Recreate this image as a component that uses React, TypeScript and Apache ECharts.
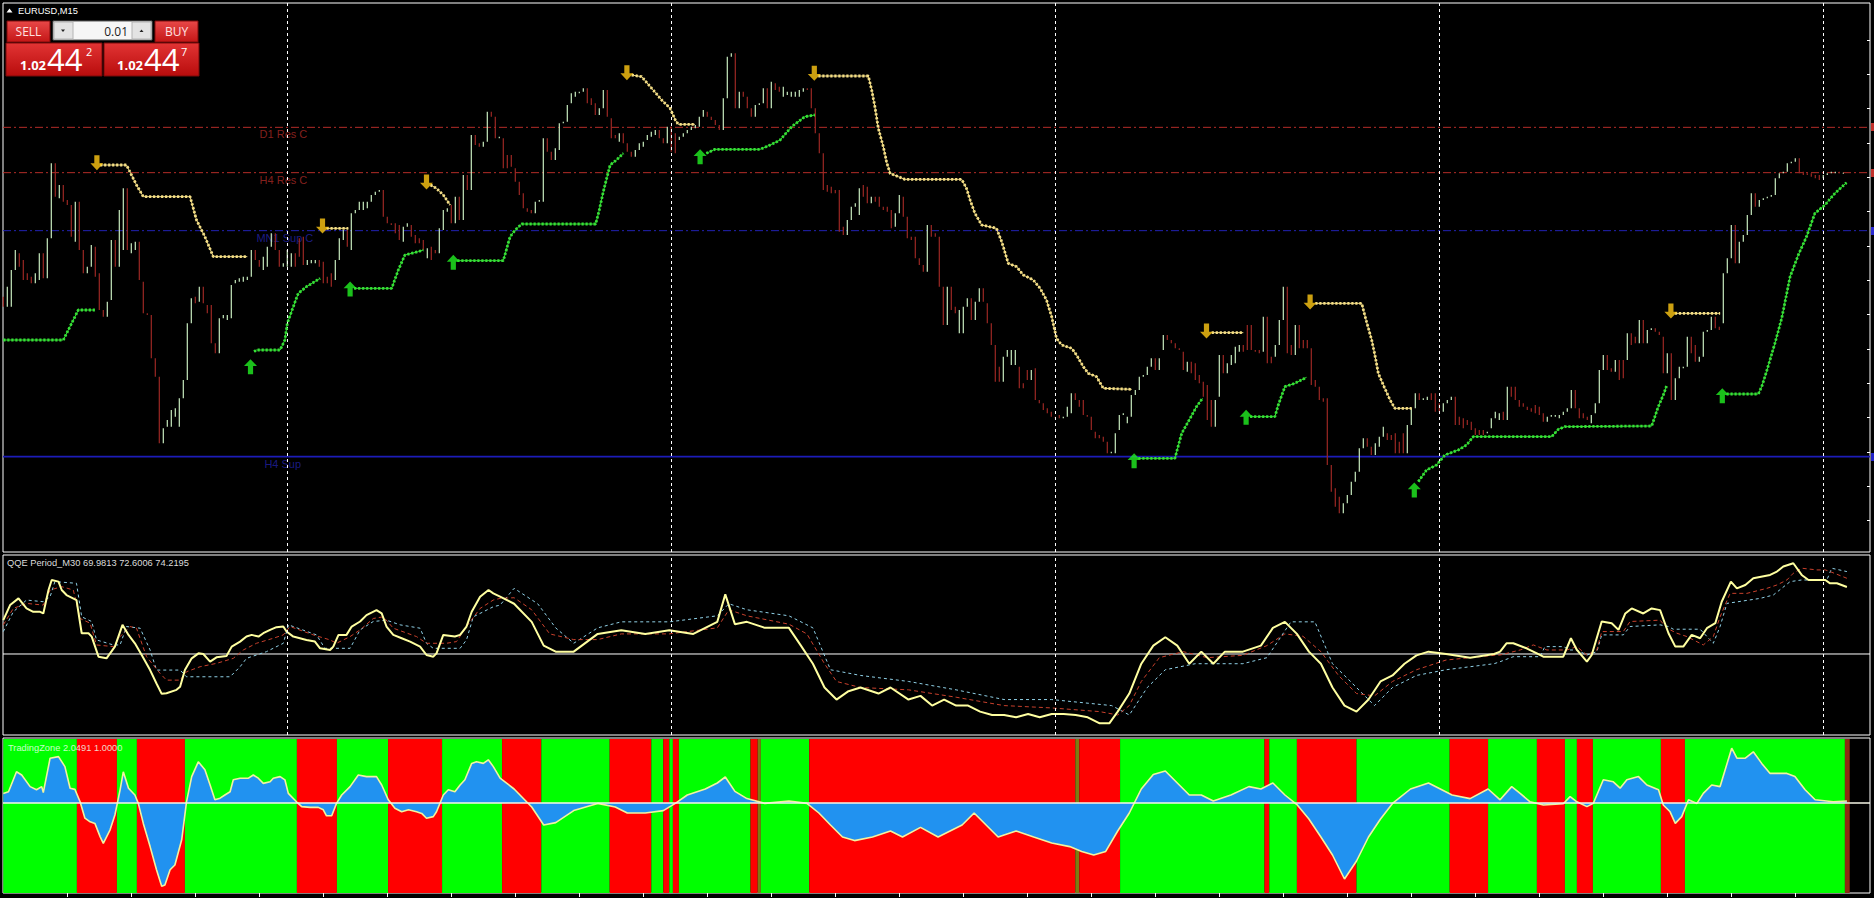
import React, { useEffect, useRef } from "react";
import * as echarts from "echarts";

// ===================== DATA =====================
// Candles: [open, close] in points, price = 1 + p / 100000 (EURUSD M15)
const candles = [
  [2070,2040],[2040,2100],[2040,2150],[2150,2210],[2200,2160],[2180,2120],[2140,2120],[2130,2110],[2110,2140],[2120,2200],
  [2200,2125],[2125,2245],[2245,2470],[2470,2370],[2365,2405],[2405,2355],[2360,2345],[2345,2250],[2235,2355],[2355,2210],
  [2210,2140],[2140,2160],[2160,2225],[2220,2130],[2140,2030],[2030,2010],[2010,2055],[2060,2240],[2240,2160],[2160,2330],
  [2210,2395],[2395,2210],[2200,2230],[2210,2235],[2235,2120],[2115,2020],[2020,2015],[2015,1885],[1885,1830],[1830,1630],
  [1630,1675],[1680,1700],[1680,1730],[1710,1735],[1680,1765],[1765,1820],[1820,1990],[1990,2065],[2070,2050],[2055,2100],
  [2100,2050],[2045,2020],[2045,1930],[1930,1900],[1900,2005],[2005,2015],[2000,2015],[2005,2105],[2110,2120],[2115,2125],
  [2115,2130],[2120,2130],[2130,2210],[2210,2180],[2180,2160],[2150,2190],[2160,2220],[2220,2260],[2260,2210],[2210,2160],
  [2160,2170],[2160,2210],[2160,2200],[2200,2160],[2245,2190],[2250,2165],[2165,2180],[2170,2180],[2170,2180],[2180,2160],
  [2175,2110],[2130,2110],[2140,2100],[2120,2180],[2180,2245],[2240,2270],[2270,2220],[2210,2320],[2320,2330],[2330,2355],
  [2330,2355],[2335,2355],[2355,2375],[2375,2385],[2385,2390],[2390,2310],[2310,2290],[2290,2285],[2290,2260],[2285,2240],
  [2235,2280],[2280,2290],[2285,2250],[2255,2230],[2245,2230],[2240,2210],[2185,2215],[2220,2180],[2210,2200],[2200,2275],
  [2270,2330],[2325,2335],[2345,2290],[2290,2370],[2370,2300],[2300,2435],[2435,2390],[2390,2555],[2555,2525],[2530,2520],
  [2520,2535],[2535,2625],[2625,2610],[2610,2545],[2545,2550],[2545,2455],[2495,2455],[2495,2460],[2455,2415],[2415,2375],
  [2380,2335],[2335,2325],[2330,2320],[2320,2355],[2355,2360],[2355,2545],[2545,2505],[2505,2480],[2480,2515],[2510,2590],
  [2590,2595],[2595,2645],[2650,2680],[2670,2685],[2680,2685],[2685,2695],[2695,2650],[2665,2645],[2650,2615],[2615,2635],
  [2635,2690],[2690,2610],[2605,2545],[2555,2545],[2535,2560],[2560,2530],[2530,2505],[2505,2490],[2490,2510],[2510,2530],
  [2520,2535],[2540,2555],[2550,2565],[2555,2570],[2570,2545],[2545,2530],[2530,2580],[2580,2505],[2560,2500],[2540,2550],
  [2550,2560],[2560,2570],[2570,2580],[2575,2585],[2580,2610],[2610,2630],[2625,2610],[2610,2600],[2600,2585],[2585,2570],
  [2570,2665],[2665,2790],[2790,2800],[2800,2635],[2635,2685],[2685,2670],[2670,2635],[2635,2610],[2610,2645],[2645,2650],
  [2650,2695],[2695,2635],[2635,2715],[2710,2690],[2700,2685],[2670,2700],[2675,2685],[2670,2685],[2670,2685],[2670,2690],
  [2685,2695],[2695,2690],[2695,2635],[2635,2560],[2560,2500],[2500,2390],[2405,2385],[2400,2380],[2390,2380],[2390,2265],
  [2280,2255],[2255,2300],[2300,2340],[2340,2350],[2315,2395],[2405,2370],[2400,2350],[2350,2370],[2370,2355],[2370,2340],
  [2340,2330],[2340,2325],[2330,2275],[2280,2320],[2320,2375],[2370,2310],[2310,2245],[2250,2240],[2250,2185],[2185,2165],
  [2165,2145],[2145,2285],[2285,2250],[2260,2250],[2250,2100],[2100,1985],[1985,2100],[2100,2030],[2040,2020],[1960,2030],
  [1960,2040],[2040,2065],[2065,2000],[2000,2055],[2055,2095],[2095,2055],[2050,1990],[1990,1925],[1925,1815],[1860,1815],
  [1815,1890],[1890,1910],[1865,1910],[1865,1910],[1860,1795],[1810,1795],[1850,1820],[1820,1850],[1855,1760],[1760,1750],
  [1750,1730],[1735,1720],[1725,1710],[1710,1705],[1715,1705],[1705,1710],[1710,1740],[1720,1780],[1780,1760],[1760,1740],
  [1760,1715],[1715,1710],[1710,1670],[1665,1645],[1655,1645],[1650,1635],[1635,1600],[1600,1605],[1600,1660],[1670,1715],
  [1715,1720],[1690,1710],[1710,1775],[1775,1790],[1790,1830],[1830,1835],[1835,1860],[1860,1885],[1885,1850],[1850,1885],
  [1910,1955],[1955,1940],[1940,1930],[1930,1915],[1915,1910],[1905,1850],[1845,1875],[1875,1840],[1870,1820],[1835,1810],
  [1815,1770],[1805,1700],[1760,1680],[1680,1760],[1770,1895],[1895,1840],[1840,1870],[1865,1895],[1870,1920],[1905,1925],
  [1925,1905],[1985,1910],[1985,1910],[1910,1905],[1910,1900],[1905,2010],[2010,1870],[1890,1870],[1890,1925],[1925,2000],
  [2000,2100],[2100,1900],[1925,1895],[1895,1985],[1985,1915],[1940,1915],[1940,1915],[1915,1805],[1820,1800],[1800,1760],
  [1765,1755],[1765,1565],[1565,1485],[1495,1440],[1470,1420],[1420,1450],[1450,1475],[1475,1515],[1515,1545],[1545,1615],
  [1615,1645],[1645,1620],[1620,1595],[1595,1630],[1620,1650],[1650,1680],[1660,1640],[1655,1640],[1660,1600],[1635,1600],
  [1660,1600],[1600,1685],[1685,1735],[1735,1780],[1780,1760],[1760,1765],[1760,1770],[1780,1760],[1780,1725],[1750,1725],
  [1725,1750],[1750,1760],[1760,1770],[1770,1685],[1710,1685],[1705,1675],[1700,1685],[1695,1670],[1675,1655],[1670,1655],
  [1670,1655],[1660,1665],[1675,1705],[1705,1725],[1700,1720],[1725,1700],[1700,1800],[1800,1770],[1800,1760],[1760,1740],
  [1750,1740],[1740,1730],[1735,1725],[1745,1720],[1740,1715],[1720,1695],[1695,1710],[1710,1715],[1710,1715],[1705,1715],
  [1715,1725],[1725,1735],[1735,1790],[1790,1735],[1735,1705],[1720,1705],[1710,1700],[1690,1715],[1720,1750],[1750,1850],
  [1850,1895],[1895,1850],[1855,1845],[1845,1880],[1880,1820],[1880,1825],[1880,1960],[1960,1925],[1950,1930],[1930,2000],
  [2000,1930],[1930,1970],[1970,1975],[1975,1965],[1965,1955],[1950,1840],[1840,1900],[1900,1760],[1760,1825],[1825,1860],
  [1855,1860],[1860,1950],[1950,1900],[1925,1875],[1875,1890],[1890,1965],[1965,1970],[1970,2010],[2010,1975],[1980,1970],
  [1990,2140],[2140,2185],[2185,2285],[2285,2170],[2170,2235],[2235,2255],[2255,2315],[2315,2380],[2380,2340],[2340,2360],
  [2360,2365],[2365,2370],[2370,2375],[2375,2425],[2425,2440],[2440,2445],[2445,2470],[2470,2475],[2475,2485],[2485,2440],
  [2445,2435],[2440,2435],[2440,2430],[2435,2425],[2435,2420],[2425,2435],[2435,2440],[2440,2445],[2440,2445],[2445,2440],[2440,2442],
];

const levelNames = ["D1 Res C", "H4 Res C", "MN1 Sup C", "H4 Sup"];
const levelValues = [2578, 2442, 2268, 1590];

const daySeparators = [71, 167, 263, 359, 455];
const timeTicks = [16,32,48,64,80,96,112,128,144,160,176,192,208,224,240,256,272,288,304,320,336,352,368,384,400,416,432,448];
const priceTicks = [2840,2737,2634,2531,2428,2325,2222,2119,2016,1913,1810,1707,1604,1501,1398];

// Trailing stop lines [bar, price points]
const greenStops = [
  [[0,1940],[15,1940],[18.75,2030],[22.9,2030]],
  [[62.7,1905],[63.3,1910],[69.2,1910],[70.4,1940],[71,1990],[72.5,2040],[73.75,2080],[75.8,2100],[79.2,2125]],
  [[87.7,2095],[97.1,2095],[98.75,2150],[100.4,2195],[103.75,2205],[105,2210]],
  [[113.5,2178],[125,2178],[126.7,2250],[128,2270],[129.6,2288],[148.1,2288],[148.9,2325],[150,2385],[151.7,2465],[153.3,2480],[155,2500]],
  [[175.75,2500],[177.9,2512],[189.2,2512],[191.7,2525],[194.2,2540],[197.1,2580],[200.4,2610],[202.9,2615]],
  [[283.75,1585],[292.9,1585],[294.6,1660],[296.7,1705],[298.3,1740],[299.8,1765]],
  [[311.7,1710],[317.9,1710],[318.75,1745],[320.4,1800],[322.9,1810],[325.8,1828]],
  [[353.75,1515],[355.8,1550],[358.3,1565],[360.4,1595],[363.75,1610],[365.8,1625],[367.5,1650],[387.1,1650],[388.75,1672],[390.4,1680],[412.1,1682],[413.75,1740],[415,1775],[415.8,1802]],
  [[430.8,1778],[438.75,1778],[439.6,1800],[440.8,1845],[442.9,1930],[444.6,2005],[446.7,2130],[448.75,2195],[450.8,2250],[452.9,2320],[455.4,2345],[457.9,2380],[460.8,2412]],
];
const yellowStops = [
  [[24.2,2465],[30.8,2465],[33.3,2405],[35,2370],[46.7,2370],[48.3,2300],[50.4,2250],[52.5,2190],[61,2190]],
  [[80.8,2275],[86.25,2275]],
  [[106.8,2405],[108.3,2395],[110,2375],[111.7,2345]],
  [[157.1,2735],[159.6,2730],[162.1,2695],[164.6,2660],[166.7,2635],[168,2600],[168.75,2587],[172.9,2587]],
  [[203.75,2732],[216.25,2732],[217.1,2690],[217.9,2640],[218.75,2575],[220,2520],[220.8,2475],[221.7,2440],[223.75,2430],[225.4,2422],[239.6,2422],[240.8,2395],[241.7,2360],[242.9,2320],[244.6,2285],[248.3,2275],[249.6,2235],[251.25,2170],[253.3,2160],[255,2135],[257.5,2120],[259.2,2095],[260.8,2060],[262.1,2010],[263.3,1945],[264.6,1925],[267.1,1915],[268.3,1895],[270,1860],[271.25,1840],[273.3,1830],[275,1795],[282.1,1792]],
  [[302.1,1962],[310,1962]],
  [[328,2050],[339.6,2050],[340.8,1995],[342.1,1940],[342.9,1895],[343.75,1840],[345,1805],[346.7,1760],[347.9,1735],[352.1,1735]],
  [[417.9,2020],[429.2,2020]],
];
const downArrows = [[23.4,2472],[79.8,2282],[105.8,2414],[155.9,2742],[202.75,2740],[300.8,1967],[326.7,2054],[416.9,2027]];
const upArrows = [[61.8,1860],[86.7,2093],[112.5,2173],[174.2,2490],[282.7,1578],[310.7,1708],[352.75,1490],[429.75,1773]];

// QQE (M30) : main line, slow trailing (red), fast trailing (blue)
const qqeMain = [
  [0,60.1],[1.7,64.6],[3.8,66.6],[5.8,63.6],[7.5,62.6],[9.2,62.6],[10,62.1],[11.3,69.1],[12.1,72.1],[13.8,71.6],[14.6,69.1],[15.8,67.6],[18.3,66.1],[19.6,56.2],[21.3,56.2],[22.1,55.2],[23.8,49.2],[25.8,48.7],[27.9,52.2],[29.8,58.7],[31.3,55.7],[32.9,53.2],[34.6,49.7],[36.7,45.2],[38.3,41.2],[39.6,38.1],[40.8,38.3],[43.3,39.3],[44.2,40.2],[45.4,45.2],[47.1,48.7],[48.8,50.2],[50,50],[51.7,47.7],[53.3,49],[55.8,49.4],[57.1,52.2],[59.2,53.7],[60.8,55.2],[62.1,55.7],[63.8,55.2],[65,56.2],[66.7,57.2],[68.3,58],[70,58.2],[70.8,56.7],[72.5,55.2],[75.8,54.2],[77.9,53.7],[79.2,51.7],[81.7,51.2],[82.5,52.2],[83.8,55.7],[85.8,55.7],[87.1,58.2],[89.2,59.7],[90.8,61.6],[93.3,63.1],[94.6,62.1],[95.8,58.2],[97.5,55.7],[99.6,54.7],[101.7,53.7],[104.2,52.2],[105.8,49.7],[107.5,49.2],[108.3,50.2],[110,55.7],[112.9,55.2],[114.2,55.7],[115.8,58.2],[117.1,62.6],[119.2,67.1],[121.3,69.1],[122.5,68.1],[124.2,67.1],
  [127.7,65.0],[132.1,59.6],[135.1,52.5],[138.1,50.7],[142.6,50.7],[148.6,56.0],[154.5,57.1],[160.5,56.0],[166.5,57.1],[172.5,56.0],[178.5,59.6],[180.5,67.8],[182.9,58.9],[185.9,59.6],[190.4,57.8],[196.4,57.8],[199.4,52.5],[202.4,47.1],[205.3,40.0],[208.3,36.4],[211.3,38.9],[214.3,40.0],[218.8,38.2],[221.8,40.0],[226.3,36.4],[229.3,37.5],[232.2,34.6],[235.2,36.4],[238.2,34.6],[241.2,34.6],[244.2,32.8],[247.2,31.8],[250.2,31.8],[253.2,31.1],[256.2,32.1],[259.1,31.1],[262.1,32.1],[265.1,32.1],[268.1,31.8],[271.1,31.1],[274.1,29.3],[276.5,29.3],[278.6,32.8],[281.5,38.2],[284.5,47.1],[287.5,52.5],[290.5,55.0],[293.5,52.5],[296.5,47.1],[299.5,50.7],[302.5,47.1],[305.4,50.7],[309.9,50.7],[314.4,52.5],[317.4,57.8],[320.4,59.6],[323.4,56.0],[326.4,50.7],[329.4,47.1],[332.3,40.0],[335.3,34.6],[338.3,32.8],[341.3,36.4],[344.3,41.8],[347.3,43.6],[350.3,47.1],[353.3,49.6],[356.3,50.7],[360.7,50.0],[366.7,48.9],[372.7,50.0],
  [374.2,50.7],[375.8,53.2],[377.5,53.2],[380.8,51.7],[383.4,50.2],[385,49.2],[390,49.2],[391.9,54.7],[393.4,51.2],[395.9,47.7],[397.1,49.7],[399.6,59.7],[402.1,59.2],[403.8,57.2],[405.5,62.1],[407.1,63.6],[410,62.1],[412.1,63.6],[414.2,63.1],[416.3,56.2],[418,52.2],[420,52.2],[422.1,55.7],[424.2,54.7],[425.9,57.7],[428,59.2],[429.6,65.6],[431.9,71.6],[433.4,69.6],[435.5,70.6],[437.5,72.6],[441.7,73.6],[443.4,74.6],[445,76.1],[447.5,77.1],[449.6,73.6],[451.3,72.1],[455.5,72.1],[456.7,71.1],[458.4,71.1],[460.9,70.0],
];
const qqeSlow = [
  [0,58.7],[2.5,63.6],[5.8,65.1],[10,64.6],[11.7,69.1],[14.6,70.1],[17.5,69.1],[19.2,60.6],[21.7,59.2],[23.3,52.7],[27.5,52.2],[29.2,55.2],[31.7,58.2],[33.3,57.7],[35.8,49.2],[39.2,44.2],[40.8,42.2],[44.2,42.2],[45.8,44.7],[49.2,46.2],[53.3,47.2],[57.5,48.7],[60,51.2],[63.3,53.2],[67.5,54.7],[70,55.7],[71.7,58.2],[77.5,55.7],[81.7,54.2],[83.3,53.2],[86.7,55.2],[89.2,57.2],[92.5,60.6],[95,61.1],[97.5,57.7],[103.3,55.2],[105.8,53.2],[110.8,53.2],[113.3,53.7],[115.8,58.2],[119.2,63.6],[122.5,66.1],[124.2,66.6],
  [127.7,66.8],[132.1,63.2],[136.6,56.0],[142.6,54.3],[148.6,54.3],[154.5,56.0],[166.5,56.0],[178.5,57.8],[181.4,63.2],[185.9,61.4],[196.4,58.9],[200.9,56.0],[205.3,47.1],[208.3,41.8],[214.3,40.0],[226.3,39.3],[238.2,37.1],[250.2,34.6],[262.1,33.9],[274.1,32.8],[278.6,31.8],[281.5,34.6],[284.5,41.8],[289,48.9],[295,50.7],[301,48.9],[309.9,49.6],[315.9,52.5],[320.4,56.0],[324.9,55.3],[329.4,50.7],[333.8,43.6],[338.3,38.2],[342.8,37.5],[347.3,41.8],[353.3,45.3],[360.7,48.2],[372.7,49.6],
  [374.2,49.7],[379.2,51.2],[382.5,52.7],[385.9,51.2],[390.9,51.2],[393.4,52.2],[395.9,49.7],[398.4,51.2],[399.6,56.7],[405,56.7],[406.7,59.7],[414.2,60.1],[415.9,57.7],[418.4,56.2],[420.9,55.2],[425,52.7],[427.5,55.2],[429.2,61.1],[431.7,68.1],[435.9,68.1],[440.9,69.6],[443.4,70.6],[445.9,72.1],[447.5,74.1],[449.6,75.6],[453.4,75.1],[455.5,75.1],[456.7,74.6],[460.9,72.6],
];
const qqeFast = [
  [0,56.7],[2.5,62.6],[5.8,66.1],[10,65.6],[11.7,67.1],[12.9,71.6],[18.3,71.1],[19.6,61.1],[22.1,59.7],[23.3,54.2],[27.5,52.7],[29.2,52.7],[30.8,58.2],[34.2,57.7],[36.7,51.2],[38.3,45.2],[44.2,45.2],[45.8,43.2],[56.7,43.2],[59.2,46.2],[60.8,48.7],[65.8,50.7],[70,53.2],[71.3,58.7],[78.3,55.7],[80.4,51.7],[86.7,51.7],[89.2,57.2],[92.5,59.7],[95.8,60.1],[99.2,58.7],[104.2,57.7],[105.8,53.2],[107.5,51.7],[114.2,51.7],[115.8,54.2],[117.5,61.1],[122.5,64.1],[124.2,64.6],
  [127.7,69.6],[133.6,65.0],[138.1,57.8],[142.6,53.2],[148.6,57.8],[154.5,59.6],[166.5,59.6],[178.5,61.4],[181.4,65.0],[185.9,63.2],[196.4,61.4],[202.4,57.8],[206.8,45.3],[214.3,43.6],[226.3,41.8],[238.2,39.3],[250.2,36.4],[262.1,36.4],[277.1,34.6],[281.5,31.8],[286,40.0],[290.5,45.3],[298,47.1],[309.9,47.1],[315.9,48.9],[321.9,59.6],[327.9,59.6],[332.3,47.1],[336.8,41.8],[342.8,34.6],[347.3,40.0],[353.3,43.6],[360.7,45.3],[372.7,47.1],
  [374.2,47.7],[377.5,49.2],[384.2,49.2],[385.4,52.2],[390,52.2],[391.7,51.2],[393.4,51.2],[395.9,49.7],[398.4,50.7],[399.6,55.7],[405,55.7],[406.7,58.2],[414.2,58.7],[416.3,58.2],[417.5,57.4],[424.2,57.4],[426.7,54.2],[427.5,53.2],[429.2,58.2],[430.9,65.1],[439.2,66.6],[442.5,67.6],[446.7,71.6],[449.6,72.1],[455.9,72.1],[457.1,75.6],[460.9,74.6],
];

// TradingZone oscillator (relative to its centre line)
const tzLine = [
  [0,0.24],[1.3,0.28],[3.3,0.78],[4.6,0.70],[6.7,0.41],[8.3,0.33],[9.6,0.41],[10,0.26],[11.7,1.12],[13.8,1.16],[15.4,0.91],[16.7,0.37],[17.9,0.34],[19.2,0.03],[20.4,-0.38],[21.7,-0.47],[22.9,-0.51],[24.2,-0.84],[25,-1.01],[26.7,-0.67],[27.9,-0.30],[29.2,0.33],[30,0.78],[31.3,0.37],[32.9,0.20],[33.75,-0.01],[35,-0.51],[36.7,-1.09],[38.3,-1.67],[39.6,-2.08],[40.4,-2.05],[41.7,-1.67],[42.9,-1.55],[44.6,-0.92],[45.8,0.03],[47.1,0.66],[48.75,1.03],[50.4,0.83],[51.7,0.45],[52.9,0.08],[54.2,0.12],[55.4,0.20],[56.7,0.28],[57.5,0.58],[59.2,0.62],[61.3,0.62],[62.5,0.70],[63.75,0.62],[65,0.49],[66.7,0.53],[67.5,0.62],[69.2,0.66],[70.4,0.58],[71.25,0.24],[73.3,0.03],[74.6,-0.09],[76.7,-0.11],[78.75,-0.11],[80,-0.17],[80.8,-0.32],[82.1,-0.32],[83.3,-0.01],[84.6,0.20],[86.7,0.41],[88.75,0.70],[90.8,0.66],[93.3,0.66],[94.6,0.45],[96.25,0.08],[97.9,-0.13],[99.6,-0.22],[101.3,-0.17],[103.3,-0.22],[104.6,-0.26],[105.8,-0.38],[107.5,-0.34],[108.3,-0.22],[110,0.20],[111.25,0.33],[112.9,0.28],[114.2,0.45],[115.4,0.58],[117.1,0.99],[118.3,1.03],[120,0.99],[121.25,1.08],[122.5,0.91],[124.2,0.62],
  [127.7,0.35],[132.1,-0.10],[135.1,-0.55],[138.1,-0.49],[142.6,-0.19],[148.6,-0.01],[153,-0.10],[156,-0.25],[160.5,-0.25],[165,-0.19],[168,-0.01],[171,0.20],[175.5,0.35],[178.5,0.50],[180.5,0.65],[182.9,0.29],[185.9,0.11],[190.4,-0.01],[196.4,0.05],[200.9,-0.01],[203.9,-0.25],[206.8,-0.55],[209.8,-0.85],[212.8,-0.94],[217.3,-0.85],[221.8,-0.70],[224.8,-0.85],[229.3,-0.61],[233.7,-0.85],[236.7,-0.70],[239.7,-0.55],[242.7,-0.25],[245.7,-0.55],[248.7,-0.85],[253.2,-0.70],[257.6,-0.85],[262.1,-1.00],[266.6,-1.09],[269.6,-1.21],[272.6,-1.30],[275.6,-1.21],[278.6,-0.70],[281.5,-0.25],[284.5,0.35],[287.5,0.71],[290.5,0.80],[293.5,0.50],[296.5,0.20],[299.5,0.20],[302.5,0.05],[306.9,0.20],[311.4,0.41],[314.4,0.35],[317.4,0.50],[320.4,0.20],[323.4,-0.04],[326.4,-0.40],[329.4,-0.85],[332.3,-1.30],[335.3,-1.90],[338.3,-1.45],[341.3,-0.85],[344.3,-0.40],[347.3,-0.01],[351.8,0.35],[356.3,0.50],[362.2,0.20],[366.7,0.11],[371.2,0.35],
  [374.2,0.08],[377.1,0.41],[379.2,0.24],[381.7,0.03],[385,-0.05],[390,-0.02],[391.7,0.16],[393.4,0.03],[395.9,-0.09],[397.5,-0.01],[400,0.58],[402.5,0.53],[404.2,0.37],[405.9,0.58],[408.8,0.66],[410.9,0.45],[413.8,0.33],[415,-0.05],[416.7,-0.22],[418,-0.51],[419.6,-0.34],[421.3,0.08],[423.4,-0.01],[425,0.24],[427.1,0.45],[429.2,0.41],[432.1,1.37],[433.4,1.12],[435.5,1.12],[437.5,1.28],[439.6,0.99],[441.7,0.74],[445.9,0.74],[447.9,0.66],[450.45,0.33],[452.95,0.08],[457.5,0.03],[460.9,0.05],
];
// zone runs: [fromBar, toBar, kind] kind 0 = buy (green), 1 = sell (red), 2 = neutral, 3 = current
const tzZones = [
  [0,18.4,0],[18.4,28.4,1],[28.4,33.4,0],[33.4,45.4,1],[45.4,73.4,0],[73.4,83.4,1],[83.4,96.2,0],[96.2,109.7,1],
  [109.7,124.7,0],[124.7,134.5,1],[134.5,151.6,0],[151.6,162,1],[162,165,0],[165,166.5,1],[166.5,167.4,0],[167.4,168.9,1],
  [168.9,186.8,0],[186.8,188.6,1],[188.6,189.4,2],[189.4,201.5,0],
  [201.5,268,1],[268,269,2],[269,279.2,1],[279.2,315.3,0],[315.3,316.5,1],[316.5,323.4,0],[323.4,338.3,1],[338.3,361.6,0],
  [361.6,371.2,1],[371.2,383.4,0],[383.4,390.4,1],[390.4,393.4,0],[393.4,397.4,1],[397.4,414.4,0],[414.4,420.4,1],
  [420.4,460.4,0],[460.4,461.6,3],
];

// ===================== STYLE =====================
const X_MIN = -0.075;
const X_MAX = 466.675;
const MAIN_MIN = 1304, MAIN_MAX = 2951;
const QQE_MIN = 25.82, QQE_MAX = 79.55;
const TZ_MIN = -2.25, TZ_MAX = 1.625;
const BULL = "#c9ecc0";
const BEAR = "#9c2824";
const ZONE_COLORS = ["#00ff00", "#ff0000", "#7c7c12", "#8c2c12"];
const LEVEL_STYLES = [
  { color: "#b42c28", type: [8, 3, 2, 3], width: 1, text: "#a82a26", at: 64.2 },
  { color: "#b42c28", type: [8, 3, 2, 3], width: 1, text: "#a82a26", at: 64.2 },
  { color: "#2222b4", type: [8, 3, 2, 3], width: 1, text: "#2424a8", at: 63.4 },
  { color: "#1c1cb8", type: "solid", width: 1.6, text: "#2020a4", at: 65.4 },
];
const FONT = '"Liberation Sans", Arial, sans-serif';
const DOWN_ARROW = "path://M3,0L7,0L7,6L10,6L5,11L0,6L3,6Z";
const UP_ARROW = "path://M5,0L10,5L7,5L7,11L3,11L3,5L0,5Z";

function buildOption() {
  const grids = [
    { left: 3, top: 3, width: 1867, height: 549 },
    { left: 3, top: 555, width: 1867, height: 180 },
    { left: 3, top: 738, width: 1867, height: 155 },
  ].map((g) => ({ ...g, show: true, borderColor: "#ffffff", borderWidth: 1, backgroundColor: "transparent" }));

  const xAxis = [0, 1, 2].map((g) => ({
    type: "value",
    gridIndex: g,
    min: X_MIN,
    max: X_MAX,
    position: "bottom",
    axisLine: { show: false, onZero: false },
    splitLine: { show: false },
    axisLabel: { show: false },
    axisTick:
      g === 2
        ? { show: true, customValues: timeTicks, length: 4, lineStyle: { color: "#ffffff" } }
        : { show: false },
  }));
  const yAxis = [
    {
      type: "value", gridIndex: 0, min: MAIN_MIN, max: MAIN_MAX, position: "right",
      axisLine: { show: false, onZero: false }, splitLine: { show: false }, axisLabel: { show: false },
      axisTick: { show: true, inside: true, customValues: priceTicks, length: 3, lineStyle: { color: "#ffffff" } },
    },
    { type: "value", gridIndex: 1, min: QQE_MIN, max: QQE_MAX, show: false, splitLine: { show: false } },
    { type: "value", gridIndex: 2, min: TZ_MIN, max: TZ_MAX, show: false, splitLine: { show: false } },
  ];

  const series: any[] = [];

  // ---- main panel: levels ----
  levelValues.forEach((v, k) => {
    const st = LEVEL_STYLES[k];
    series.push({
      type: "line", xAxisIndex: 0, yAxisIndex: 0, silent: true, symbol: "none", z: 1,
      data: [[X_MIN, v], [X_MAX, v]],
      lineStyle: { color: st.color, width: st.width, type: st.type },
      markLine: k === 0 ? {
        silent: true, symbol: ["none", "none"], label: { show: false },
        lineStyle: { color: "#ffffff", type: [3, 3], width: 1 },
        data: daySeparators.map((s) => ({ xAxis: s })),
      } : undefined,
    });
    series.push({
      type: "scatter", xAxisIndex: 0, yAxisIndex: 0, silent: true, symbolSize: 1, z: 2,
      itemStyle: { color: "rgba(0,0,0,0)" },
      data: [[st.at, v]],
      label: {
        show: true, formatter: levelNames[k], position: [0, 2], align: "left", verticalAlign: "top",
        color: st.text, fontSize: 11, fontFamily: FONT,
      },
    });
  });

  // ---- candles ----
  series.push({
    type: "custom", xAxisIndex: 0, yAxisIndex: 0, silent: true, z: 3,
    data: candles.map((c, i) => [i, c[0], c[1]]),
    encode: { x: 0, y: [1, 2] },
    renderItem: (params: any, api: any) => {
      const i = api.value(0), o = api.value(1), c = api.value(2);
      const top = api.coord([i, Math.max(o, c)]);
      const bot = api.coord([i, Math.min(o, c)]);
      let y2 = bot[1];
      if (y2 - top[1] < 1) y2 = top[1] + 1;
      return {
        type: "line",
        shape: { x1: top[0], y1: top[1], x2: top[0], y2 },
        style: { stroke: c >= o ? BULL : BEAR, lineWidth: 1.2 },
      };
    },
  });

  // ---- trailing stops ----
  const addStops = (segs: number[][][], color: string) => {
    segs.forEach((seg) => {
      series.push({
        type: "line", xAxisIndex: 0, yAxisIndex: 0, silent: true, symbol: "none", z: 4,
        data: seg, lineStyle: { color, width: 1 },
      });
      series.push({
        type: "line", xAxisIndex: 0, yAxisIndex: 0, silent: true, symbol: "none", z: 5,
        data: seg, lineStyle: { color, width: 2.8, type: [2.2, 1.8] },
      });
    });
  };
  addStops(greenStops, "#36e036");
  addStops(yellowStops, "#f4de86");

  series.push({
    type: "scatter", xAxisIndex: 0, yAxisIndex: 0, silent: true, z: 6,
    symbol: DOWN_ARROW, symbolSize: [13, 15], itemStyle: { color: "#ffc814" }, data: downArrows,
  });
  series.push({
    type: "scatter", xAxisIndex: 0, yAxisIndex: 0, silent: true, z: 6,
    symbol: UP_ARROW, symbolSize: [13, 15], itemStyle: { color: "#22f022" }, data: upArrows,
  });

  // ---- QQE panel ----
  series.push({
    type: "line", xAxisIndex: 1, yAxisIndex: 1, silent: true, symbol: "none", z: 1,
    data: [[X_MIN, 50], [X_MAX, 50]], lineStyle: { color: "#ffffff", width: 1 },
    markLine: {
      silent: true, symbol: ["none", "none"], label: { show: false },
      lineStyle: { color: "#ffffff", type: [3, 3], width: 1 },
      data: daySeparators.map((s) => ({ xAxis: s })),
    },
  });
  series.push({
    type: "line", xAxisIndex: 1, yAxisIndex: 1, silent: true, symbol: "none", z: 2,
    data: qqeFast, lineStyle: { color: "#8fd0e6", width: 1, type: [3, 3] },
  });
  series.push({
    type: "line", xAxisIndex: 1, yAxisIndex: 1, silent: true, symbol: "none", z: 2,
    data: qqeSlow, lineStyle: { color: "#c8402c", width: 1, type: [4, 3] },
  });
  series.push({
    type: "line", xAxisIndex: 1, yAxisIndex: 1, silent: true, symbol: "none", z: 3,
    data: qqeMain, lineStyle: { color: "#ffffa0", width: 2 },
  });

  // ---- TradingZone panel ----
  series.push({
    type: "custom", xAxisIndex: 2, yAxisIndex: 2, silent: true, z: 1,
    data: tzZones,
    encode: { x: [0, 1] },
    renderItem: (params: any, api: any) => {
      const s = api.coord([api.value(0), TZ_MAX]);
      const e = api.coord([api.value(1), TZ_MIN]);
      return {
        type: "rect",
        shape: { x: s[0], y: s[1] + 1, width: e[0] - s[0], height: e[1] - s[1] - 1 },
        style: { fill: ZONE_COLORS[api.value(2)] },
      };
    },
  });
  series.push({
    type: "line", xAxisIndex: 2, yAxisIndex: 2, silent: true, symbol: "none", z: 2,
    data: tzLine, lineStyle: { color: "#f2f2a0", width: 1.6 },
    areaStyle: { color: "#2192f0", opacity: 1 },
  });
  series.push({
    type: "line", xAxisIndex: 2, yAxisIndex: 2, silent: true, symbol: "none", z: 3,
    data: [[X_MIN, 0], [X_MAX, 0]], lineStyle: { color: "#f6f6e6", width: 1.5 },
  });

  const redGrad = (a: string, b: string) =>
    new echarts.graphic.LinearGradient(0, 0, 0, 1, [{ offset: 0, color: a }, { offset: 1, color: b }]);
  const txt = (x: number, y: number, text: string, font: string, fill: string, align = "left") => ({
    type: "text", x, y, silent: true, z: 100,
    style: { text, font, fill, textAlign: align, textVerticalAlign: "middle" },
  });

  const graphic: any[] = [
    { type: "polygon", silent: true, z: 100, shape: { points: [[6.5, 12.5], [12.5, 12.5], [9.5, 8.5]] }, style: { fill: "#ffffff" } },
    txt(18, 11, "EURUSD,M15", `9.3px ${FONT}`, "#ffffff"),
    txt(7, 563, "QQE Period_M30 69.9813 72.6006 74.2195", `9.3px ${FONT}`, "#dcdcdc"),
    txt(8, 748, "TradingZone 2.0491 1.0000", `9.3px ${FONT}`, "rgba(236,255,236,0.85)"),
    // one-click trading panel
    { type: "rect", silent: true, z: 100, shape: { x: 7, y: 21, width: 43, height: 21 }, style: { fill: redGrad("#e84848", "#c41616"), stroke: "#7e0a0a", lineWidth: 1 } },
    txt(28.5, 31.5, "SELL", `12px "Open Sans", ${FONT}`, "#ffe2e2", "center"),
    { type: "rect", silent: true, z: 100, shape: { x: 53, y: 21, width: 99, height: 19 }, style: { fill: "#f6f6f6", stroke: "#5a5a5a", lineWidth: 1 } },
    { type: "rect", silent: true, z: 101, shape: { x: 54, y: 22, width: 19, height: 17 }, style: { fill: "#e3e3e3", stroke: "#b4b4b4", lineWidth: 1 } },
    { type: "polygon", silent: true, z: 102, shape: { points: [[61, 29.5], [65, 29.5], [63, 32]] }, style: { fill: "#222222" } },
    txt(128, 31, "0.01", `12px "Open Sans", ${FONT}`, "#222222", "right"),
    { type: "rect", silent: true, z: 101, shape: { x: 132, y: 22, width: 19, height: 17 }, style: { fill: "#e3e3e3", stroke: "#b4b4b4", lineWidth: 1 } },
    { type: "polygon", silent: true, z: 102, shape: { points: [[139.5, 32], [143.5, 32], [141.5, 29.5]] }, style: { fill: "#222222" } },
    { type: "rect", silent: true, z: 100, shape: { x: 155, y: 21, width: 43, height: 21 }, style: { fill: redGrad("#e84848", "#c41616"), stroke: "#7e0a0a", lineWidth: 1 } },
    txt(176.5, 31.5, "BUY", `12px "Open Sans", ${FONT}`, "#ffe2e2", "center"),
    { type: "rect", silent: true, z: 100, shape: { x: 6, y: 43, width: 96, height: 33 }, style: { fill: redGrad("#e23434", "#b80c0c"), stroke: "#7a0a0a", lineWidth: 1 } },
    { type: "rect", silent: true, z: 100, shape: { x: 104, y: 43, width: 95, height: 33 }, style: { fill: redGrad("#e23434", "#b80c0c"), stroke: "#7a0a0a", lineWidth: 1 } },
    txt(20, 65, "1.02", `bold 13px "Open Sans", ${FONT}`, "#ffffff"),
    txt(47, 59, "44", `31px "Open Sans", ${FONT}`, "#ffffff"),
    txt(86, 51, "2", `11px "Open Sans", ${FONT}`, "#ffffff"),
    txt(117, 65, "1.02", `bold 13px "Open Sans", ${FONT}`, "#ffffff"),
    txt(144, 59, "44", `31px "Open Sans", ${FONT}`, "#ffffff"),
    txt(181, 51, "7", `11px "Open Sans", ${FONT}`, "#ffffff"),
    // price-scale tags cut at the right edge
    { type: "rect", silent: true, z: 100, shape: { x: 1871, y: 123, width: 3, height: 8 }, style: { fill: "#c3322c" } },
    { type: "rect", silent: true, z: 100, shape: { x: 1871, y: 169, width: 3, height: 8 }, style: { fill: "#c3322c" } },
    { type: "rect", silent: true, z: 100, shape: { x: 1871, y: 227, width: 3, height: 8 }, style: { fill: "#2a2ad2" } },
    { type: "rect", silent: true, z: 100, shape: { x: 1871, y: 453, width: 3, height: 8 }, style: { fill: "#2222c8" } },
  ];

  return {
    backgroundColor: "#000000",
    animation: false,
    grid: grids,
    xAxis,
    yAxis,
    series,
    graphic,
  };
}

export default function App() {
  const ref = useRef<HTMLDivElement>(null);
  useEffect(() => {
    if (!ref.current) return;
    const chart = echarts.init(ref.current, null, { renderer: "svg" });
    chart.setOption(buildOption() as any);
    return () => chart.dispose();
  }, []);
  return (
    <div
      ref={ref}
      style={{ position: "fixed", left: 0, top: 0, width: 1874, height: 898, background: "#000" }}
    />
  );
}
